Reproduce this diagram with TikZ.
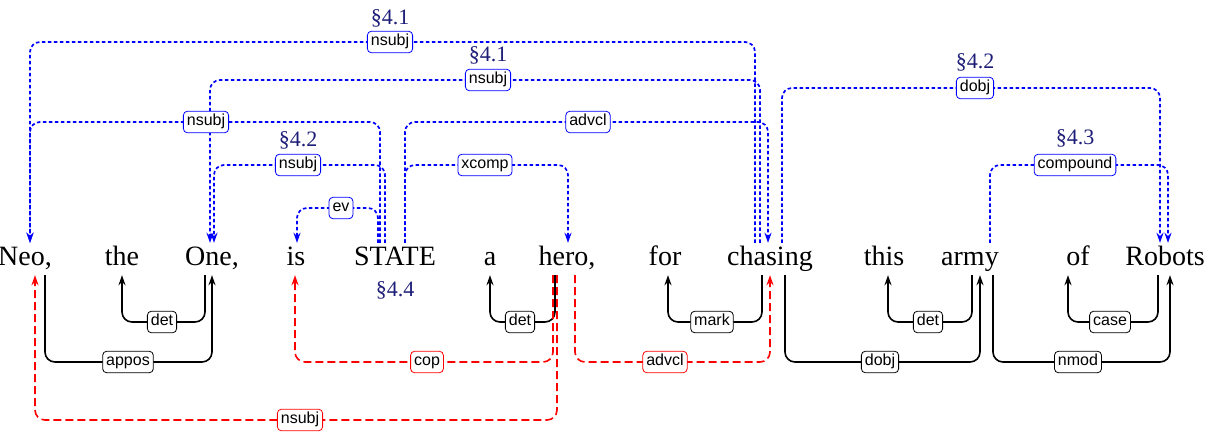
\documentclass[tikz,border=0pt]{standalone}
\usepackage{fontspec}
\setmainfont{Liberation Serif}
\setsansfont{Liberation Sans}
\usetikzlibrary{arrows.meta}
\definecolor{secblue}{RGB}{30,30,120}
\newcommand\deparc[9]{%
  \coordinate (s#8) at ([xshift=#3pt]#2);
  \coordinate (t#8) at ([xshift=#5pt]#4);
  \draw[#1] (s#8) -- (s#8 |- 0,#6) -- (t#8 |- 0,#6) -- (t#8);
  \node[lab,draw=#7] (#8) at (#9,#6) }
\begin{document}
\begin{tikzpicture}[x=1pt,y=-1pt,
  word/.style={font=\fontsize{28}{30}\selectfont,anchor=base,inner sep=2pt,text height=20pt,text depth=8pt},
  lab/.style={font=\sffamily\fontsize{16}{16}\selectfont,fill=white,rounded corners=4pt,inner sep=3.5pt,text height=11pt,text depth=3.5pt,line width=0.8pt},
  sec/.style={font=\fontsize{22}{22}\selectfont,text=secblue},
  blu/.style={blue,line width=1.7pt,dash pattern=on 3.5pt off 2.5pt,rounded corners=10pt,-{Stealth[length=10pt,width=7pt]}},
  blk/.style={black,line width=1.6pt,rounded corners=10pt,-{Stealth[length=10pt,width=7pt]}},
  rd/.style={red,line width=1.6pt,dash pattern=on 8pt off 4pt,rounded corners=10pt,-{Stealth[length=10pt,width=7pt]}}]
\useasboundingbox (0,0) rectangle (1211,437);
\node[word] (neo) at (25,265) {Neo,};
\node[word] (the) at (122,265) {the};
\node[word] (one) at (212,265) {One,};
\node[word] (is) at (296,265) {is};
\node[word] (state) at (395,265) {STATE};
\node[word] (a) at (490,265) {a};
\node[word] (hero) at (567,265) {hero,};
\node[word] (for) at (665,265) {for};
\node[word] (chasing) at (770,265) {chasing};
\node[word] (this) at (884,265) {this};
\node[word] (army) at (970,265) {army};
\node[word] (of) at (1078,265) {of};
\node[word] (robots) at (1165,265) {Robots};
% above, blue
\deparc{blu}{chasing.north}{-15}{neo.north}{5}{42}{blue}{u1}{390}{nsubj};
\deparc{blu}{chasing.north}{-10}{one.north}{-2}{80}{blue}{u2}{488}{nsubj};
\deparc{blu}{state.north}{-15}{neo.north}{5}{122}{blue}{u3}{206}{nsubj};
\deparc{blu}{state.north}{10}{chasing.north}{-2}{122}{blue}{u4}{588}{advcl};
\deparc{blu}{state.north}{-10}{one.north}{2}{165}{blue}{u5}{298}{nsubj};
\deparc{blu}{state.north}{10}{hero.north}{1}{165}{blue}{u6}{485}{xcomp};
\deparc{blu}{state.north}{-17}{is.north}{1}{208}{blue}{u7}{341}{ev};
\deparc{blu}{chasing.north}{12}{robots.north}{-5}{88}{blue}{u8}{975}{dobj};
\deparc{blu}{army.north}{20}{robots.north}{3}{165}{blue}{u9}{1075}{compound};
% below, black
\deparc{blk}{one.south}{-7}{the.south}{0}{322}{black}{b1}{162}{det};
\deparc{blk}{neo.south}{20}{one.south}{0}{362}{black}{b2}{128}{appos};
\deparc{blk}{hero.south}{-12}{a.south}{0}{322}{black}{b3}{520}{det};
\deparc{blk}{chasing.south}{-8}{for.south}{3}{322}{black}{b4}{712}{mark};
\deparc{blk}{chasing.south}{15}{army.south}{10}{362}{black}{b5}{880}{dobj};
\deparc{blk}{army.south}{2}{this.south}{4}{322}{black}{b6}{928}{det};
\deparc{blk}{army.south}{23}{robots.south}{5}{362}{black}{b7}{1078}{nmod};
\deparc{blk}{robots.south}{-7}{of.south}{-10}{322}{black}{b8}{1110}{case};
% below, red
\deparc{rd}{hero.south}{-14}{is.south}{-1}{362}{red}{r1}{427}{cop};
\deparc{rd}{hero.south}{8}{chasing.south}{0}{362}{red}{r2}{665}{advcl};
\deparc{rd}{hero.south}{-10}{neo.south}{10}{420}{red}{r3}{300}{nsubj};
% section marks
\node[sec] (s1) at (390,18) {§4.1};
\node[sec] (s2) at (488,55) {§4.1};
\node[sec] (s3) at (298,140) {§4.2};
\node[sec] (s4) at (975,62) {§4.2};
\node[sec] (s5) at (1075,138) {§4.3};
\node[sec] (s6) at (395,290) {§4.4};
\end{tikzpicture}
\end{document}
